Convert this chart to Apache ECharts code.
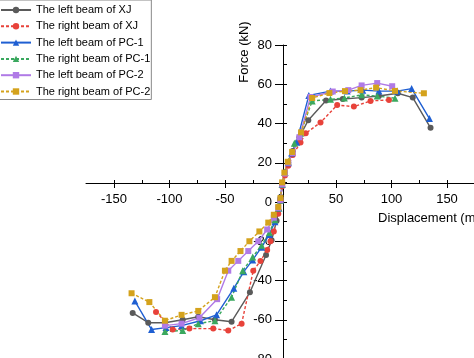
<!DOCTYPE html>
<html>
<head>
<meta charset="utf-8">
<script src="https://cdn.jsdelivr.net/npm/echarts@6/dist/echarts.min.js"></script>
<style>html,body{margin:0;padding:0;background:#fff;}#c{width:474px;height:358px;}</style>
</head>
<body>
<div id="c"></div>
<script>
// ---- data (Displacement mm, Force kN) ----
const seriesNames = ['The left beam of XJ','The right beam of XJ','The left beam of PC-1','The right beam of PC-1','The left beam of PC-2','The right beam of PC-2'];

const xjLeftX  = [-133,-119,-104,-88,-74,-59,-44,-27.5,-13,-8,-3.5,0,1.5,4,7,11,17,25,41,56,73,88.5,105.5,119,135];
const xjLeftY  = [-56.5,-61.5,-61.5,-60,-58.5,-60,-61,-46,-27,-19.5,-9.5,1,9,15,20,26,33,41.7,51.7,52.5,53.2,54,55.4,53.2,37.8];

const xjRightX = [-112,-97,-82,-60.5,-47,-35,-24.5,-18,-12,-9,-6,-2,0,1.5,4,7,11,18,22.7,36,51,66,81,97.6];
const xjRightY = [-56,-65,-64.5,-64.5,-65.5,-62,-35,-30,-24.5,-20,-15,-6,0.5,8,13.5,18.5,24,30.3,35,40.5,49.4,48.6,51.5,52];

const pc1LeftX = [-131,-116,-103,-89,-72,-57.5,-42,-33,-25,-17,-10,-5,-1.5,0,1.5,4,7,10,14.5,25.5,45,60,74,88.5,105,118,134];
const pc1LeftY = [-50.5,-65,-64,-63,-60.5,-57.5,-44,-35.5,-29.5,-23,-16.5,-10,-3,1,9,15,20,25,30.5,54.3,56.5,56.5,57,56.5,56.5,57.8,42.5];

const pc1RightX = [-104,-88,-74,-59,-44,-34,-25,-17,-10,-5,-1.5,0,1.5,4,7,12.5,18,28.5,45,57.5,73,87,103];
const pc1RightY = [-66,-65.5,-62,-60.5,-48.5,-35,-28,-22,-15.5,-9,-3,1,9,15,20.5,30,35,51.5,52.3,53,54.6,54,52.9];

const pc2LeftX = [-104,-89,-73,-57,-47,-38,-29,-20,-12,-6,-2,0,1.5,4,7,11,17,27,47,61,73,87,100.5];
const pc2LeftY = [-63,-62,-59,-49.5,-35,-30,-25,-20,-14,-8,-3,1,9,14.5,20,25,33,53.5,56.3,57,59.4,60.6,59];

const pc2RightX = [-134,-118,-104,-89,-74,-59,-50,-44,-36,-28,-19,-11,-6,-2,0,1.5,3.5,6.5,10.5,18.5,28.5,44,58,72,86,103,129];
const pc2RightY = [-46.5,-51,-60.5,-57.5,-55.5,-48.5,-35,-30,-25,-20,-15,-10.5,-6.5,-2.5,2,10,15,20.5,25.5,35.5,53,55.5,56.5,57,58.3,56.6,55.4];

const xTickLabels = [-150,-100,-50,0,50,100,150];
const yTickLabels = [-80,-60,-40,-20,0,20,40,60,80];

// ---- build ----
function pairs(xs, ys){ return xs.map((x,i)=>[x, ys[i]]); }
const FONT = 'Arial, "Liberation Sans", sans-serif';
const styles = [
  {color:'#5a5a5a', symbol:'circle', size:6, dash:'solid'},
  {color:'#e8423a', symbol:'circle', size:6, dash:[3,2]},
  {color:'#1f5fd2', symbol:'triangle', size:7, dash:'solid'},
  {color:'#3aa85e', symbol:'triangle', size:7, dash:[3,2]},
  {color:'#b07ae6', symbol:'rect', size:6, dash:'solid'},
  {color:'#d4a21c', symbol:'rect', size:6, dash:[3,2]}
];
const datasets = [
  pairs(xjLeftX,xjLeftY), pairs(xjRightX,xjRightY),
  pairs(pc1LeftX,pc1LeftY), pairs(pc1RightX,pc1RightY),
  pairs(pc2LeftX,pc2LeftY), pairs(pc2RightX,pc2RightY)
];

const series = datasets.map((d,i)=>({
  name: seriesNames[i], type:'line', xAxisIndex:0, yAxisIndex:0,
  data:d, symbol:styles[i].symbol, symbolSize:styles[i].size,
  showAllSymbol:true, animation:false,
  lineStyle:{color:styles[i].color, width:1.4, type:styles[i].dash},
  itemStyle:{color:styles[i].color}
}));

const chart = echarts.init(document.getElementById('c'), null, {renderer:'canvas'});
const hidden = {show:false};
const gridBase = {containLabel:false, outerBoundsMode:'none'};
chart.setOption({
  animation:false,
  backgroundColor:'#fff',
  textStyle:{fontFamily:FONT},
  grid:[
    Object.assign({left:86, top:45, width:389, height:314}, gridBase),
    Object.assign({left:86, top:45, width:389, height:138}, gridBase),
    Object.assign({left:114, top:45, width:333, height:138}, gridBase),
    Object.assign({left:283, top:45, width:50, height:314}, gridBase)
  ],
  xAxis:[
    {type:'value', gridIndex:0, min:-175, max:175, show:false},
    {type:'value', gridIndex:1, min:-175, max:175, position:'bottom',
      axisLine:{show:true, onZero:false, lineStyle:{color:'#000', width:1}},
      axisTick:hidden, axisLabel:hidden, splitLine:hidden},
    {type:'value', gridIndex:2, min:xTickLabels[0], max:xTickLabels[xTickLabels.length-1], interval:50, position:'bottom',
      axisLine:{show:false, onZero:false},
      axisTick:{show:true, length:5, lineStyle:{color:'#000'}},
      axisLabel:{show:true, fontSize:13, color:'#000', margin:10, fontFamily:FONT},
      splitLine:hidden},
    {type:'value', gridIndex:2, min:-150, max:150, interval:25, position:'bottom',
      axisLine:{show:false, onZero:false},
      axisTick:{show:true, inside:true, length:3, lineStyle:{color:'#000'}},
      axisLabel:hidden, splitLine:hidden},
    {type:'value', gridIndex:3, min:0, max:1, show:false}
  ],
  yAxis:[
    {type:'value', gridIndex:0, min:-80, max:80, show:false},
    {type:'value', gridIndex:1, min:0, max:1, show:false},
    {type:'value', gridIndex:2, min:0, max:1, show:false},
    {type:'value', gridIndex:3, min:yTickLabels[0], max:yTickLabels[yTickLabels.length-1], interval:20, position:'left',
      axisLine:{show:true, onZero:false, lineStyle:{color:'#000', width:1}},
      axisTick:{show:true, length:8, lineStyle:{color:'#000'}},
      axisLabel:{show:true, fontSize:13, color:'#000', margin:11, fontFamily:FONT},
      splitLine:hidden},
    {type:'value', gridIndex:3, min:-80, max:80, interval:10, position:'left',
      axisLine:{show:false, onZero:false},
      axisTick:{show:true, inside:true, length:4, lineStyle:{color:'#000'}},
      axisLabel:hidden, splitLine:hidden}
  ],
  legend:{
    orient:'vertical', left:-3, top:0, padding:[4,1,2,3],
    itemWidth:30, itemHeight:8, itemGap:4.3,
    borderColor:'#888', borderWidth:1, backgroundColor:'#fff',
    textStyle:{fontSize:11, color:'#000', lineHeight:12, fontFamily:FONT},
    data:seriesNames
  },
  graphic:[
    {type:'text', x:244, y:52, rotation:Math.PI/2,
      style:{text:'Force (kN)', fontSize:13, fill:'#000', fontFamily:FONT, textAlign:'center', textVerticalAlign:'middle'}},
    {type:'text', x:378, y:218,
      style:{text:'Displacement (mm)', fontSize:13, fill:'#000', fontFamily:FONT, textAlign:'left', textVerticalAlign:'middle'}}
  ],
  series: series
});
</script>
</body>
</html>
